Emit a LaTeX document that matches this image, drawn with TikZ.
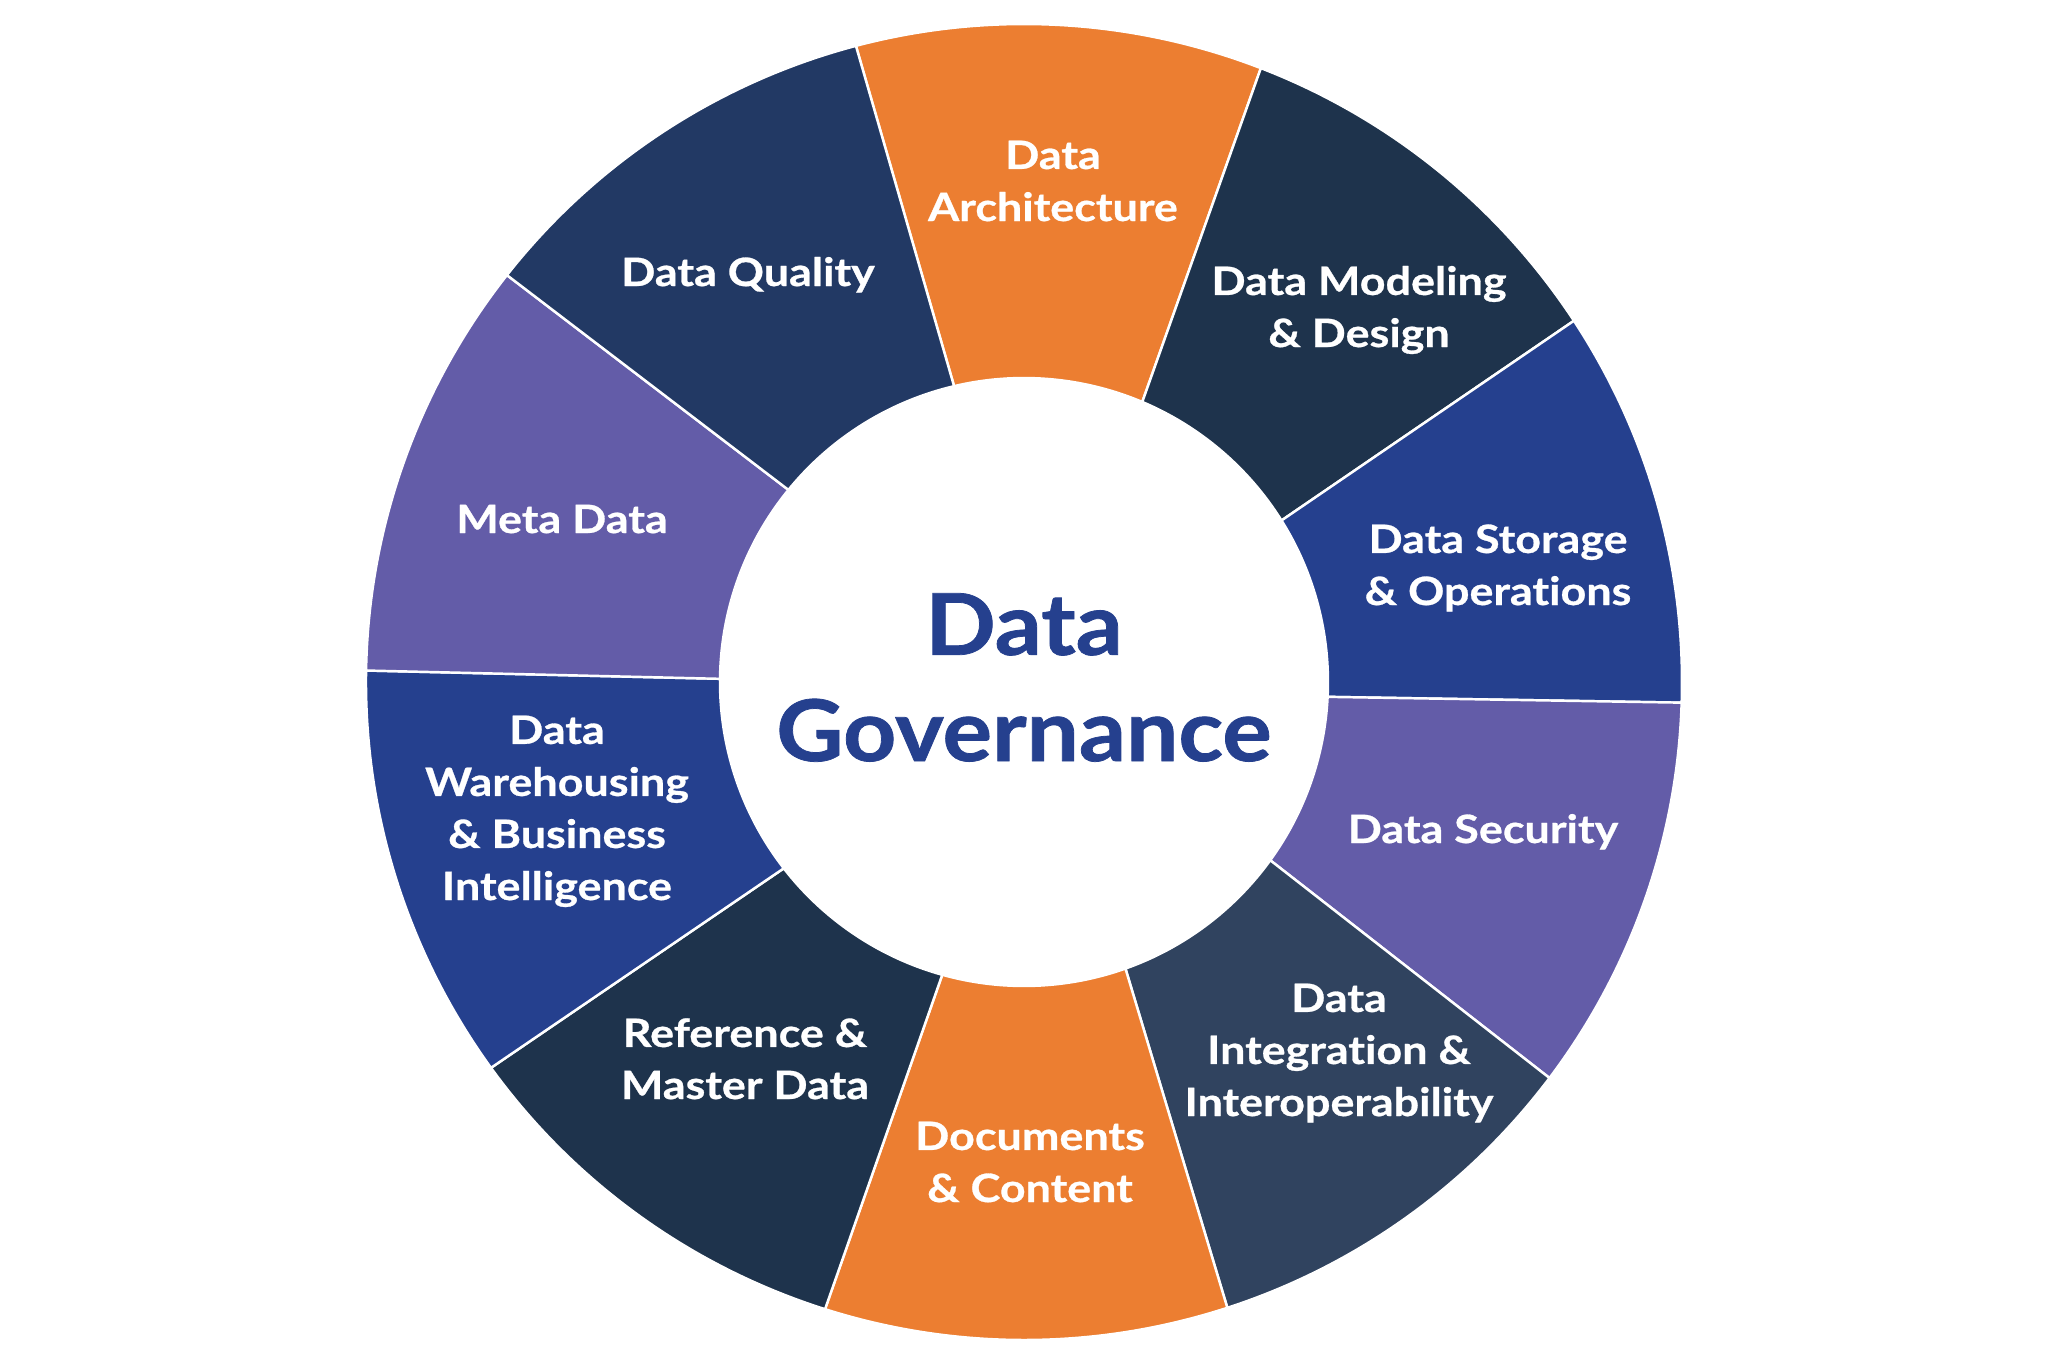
\documentclass[tikz,border=0pt]{standalone}
\usepackage{fontspec}
\setmainfont{Lato}
% wider, heavier cuts of Lato Bold for the ring and for the centre
\newfontfamily\segfont{Lato}[Ligatures=NoCommon, BoldFeatures={FakeStretch=1.15, FakeBold=0.7}]
\newfontfamily\hubfont{Lato}[Ligatures=NoCommon, BoldFeatures={FakeStretch=1.09, FakeBold=0.9}]
\usepackage{tikz}

% Segment colours
\definecolor{dgOrange}{RGB}{236,126,49}
\definecolor{dgNavy}{RGB}{34,57,100}
\definecolor{dgDark}{RGB}{30,51,76}
\definecolor{dgBlue}{RGB}{37,64,142}
\definecolor{dgPurple}{RGB}{99,92,168}
\definecolor{dgSlate}{RGB}{48,67,95}

\tikzset{
  segment/.style={draw=white, line width=0.7pt},
  seglabel/.style={draw=none, color=white, align=center, anchor=base, inner sep=0pt,
    font=\segfont\bfseries\fontsize{11.1}{14.8}\selectfont},
  hublabel/.style={draw=none, color=dgBlue, align=center, anchor=base, inner sep=0pt,
    font=\hubfont\bfseries\fontsize{24.2}{30.2}\selectfont}
}

\begin{document}
\begin{tikzpicture}[x=0.01cm, y=0.01cm]
% Page size, centre of the ring at the origin
\useasboundingbox (-1024,-684) rectangle (1024,682);

% Ring segments: outer start/end angle, inner start/end angle, colour
% outer radius 658, inner radius 304
\foreach \ao/\bo/\ai/\bi/\col in {
    104.8/68.9/103.3/67.1/dgOrange,
    68.9/33.3/67.1/32.1/dgDark,
    33.3/-1.8/32.1/-2.8/dgBlue,
    -1.8/-37.0/-2.8/-35.9/dgPurple,
    -37.0/-72.0/-35.9/-70.5/dgSlate,
    -72.0/-107.6/-70.5/-105.6/dgOrange,
    -107.6/-144.1/-105.6/-142.2/dgDark,
    -144.1/-181.0/-142.2/-180.6/dgBlue,
    -181.0/-218.2/-180.6/-219.2/dgPurple,
    -218.2/-255.2/-219.2/-256.7/dgNavy}
  \draw[segment, fill=\col] (\ao:658) arc[start angle=\ao, end angle=\bo, radius=658]
    -- (\bi:304) arc[start angle=\bi, end angle=\ai, radius=304] -- cycle;

% Labels (anchored at the baseline of the last line)
\node[seglabel] (arch) at (29,461) {Data\\Architecture};
\node[seglabel] (model) at (335,335) {Data Modeling\\\& Design};
\node[seglabel] (store) at (474,77) {Data Storage\\\& Operations};
\node[seglabel] (secur) at (459,-161) {Data Security};
\node[seglabel] (integ) at (315,-434) {Data\\Integration \&\\Interoperability};
\node[seglabel] (docs) at (6,-520) {Documents\\\& Content};
\node[seglabel] (refer) at (-279,-417) {Reference \&\\Master Data};
\node[seglabel] (wareh) at (-467,-218) {Data\\Warehousing\\\& Business\\Intelligence};
\node[seglabel] (meta) at (-462,149) {Meta Data};
\node[seglabel] (qual) at (-276,396) {Data Quality};

% Centre title
\node[hublabel] (hub) at (0,-79) {Data\\Governance};
\end{tikzpicture}
\end{document}
